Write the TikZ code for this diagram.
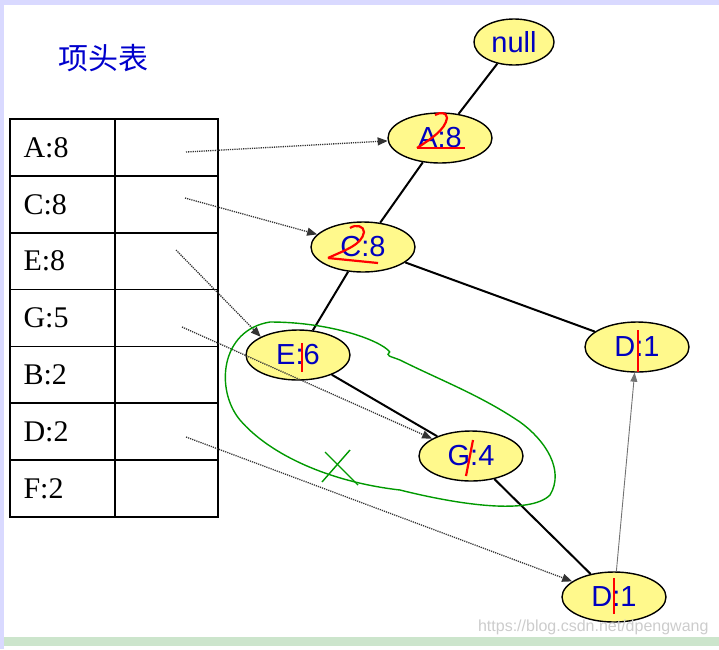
\documentclass[tikz,border=0pt]{standalone}
\usepackage{fontspec}
\setmainfont{Liberation Serif}
\newfontfamily\sans{Liberation Sans}
\newfontfamily\cjk{Noto Sans CJK SC}
\usetikzlibrary{arrows.meta,shapes.geometric}
\begin{document}
\begin{tikzpicture}[x=1pt,y=-1pt,
  nd/.style={ellipse,draw=black,line width=1.4pt,fill=yellow!45,minimum width=104pt,minimum height=50pt,inner sep=0pt,font=\sans\fontsize{29}{29}\selectfont,text=blue!75!black},
  tr/.style={draw=black,line width=2pt},
  dt/.style={draw=black!80,dash pattern=on 1.2pt off 1pt,line width=1.3pt,-{Triangle[length=10pt,width=8pt]}},
  redm/.style={draw=red,line width=2.2pt}]
\useasboundingbox (0,0) rectangle (719,649);
\fill[blue!15] (0,0) rectangle (719,5);
\fill[blue!15] (0,0) rectangle (4,649);
\fill[green!50!black!20] (4,637) rectangle (719,646);
\node[font=\cjk\fontsize{30}{30}\selectfont,text=blue!80!black] (title) at (103,58) {项头表};
\draw[line width=2.2pt] (10,119) rectangle (218,517);
\draw[line width=1.8pt] (115,119) -- (115,517);
\foreach \t [count=\i] in {A:8,C:8,E:8,G:5,B:2,D:2,F:2}{
  \node[anchor=west,font=\fontsize{30}{30}\selectfont] (h\i) at (20,{119+56.86*(\i-0.5)}) {\t};
  \ifnum\i<7 \draw[line width=1.8pt] (10,{119+56.86*\i}) -- (218,{119+56.86*\i});\fi
}
\node[nd,minimum width=80pt,minimum height=46pt] (null) at (514,42) {null};
\node[nd] (A) at (440,138) {A:8};
\node[nd] (C) at (363,247) {C:8};
\node[nd] (D1) at (637,347) {D:1};
\node[nd] (E) at (298,355) {E:6};
\node[nd] (G) at (471,456) {G:4};
\node[nd] (D2) at (614,597) {D:1};
\draw[tr] (null)--(A); \draw[tr] (A)--(C); \draw[tr] (C)--(E); \draw[tr] (C)--(D1);
\draw[tr] (E)--(G); \draw[tr] (G)--(D2);
\draw[draw=black!55,line width=0.9pt,-{Triangle[length=9pt,width=7pt]}] (D2)--(D1);
\coordinate (s1) at (186,152); \coordinate (s2) at (185,198); \coordinate (s3) at (176,250);
\coordinate (s4) at (182,327); \coordinate (s5) at (186,437);
\draw[dt] (s1)--(A); \draw[dt] (s2)--(C); \draw[dt] (s3)--(E.north west);
\draw[dt] (s4)--(G); \draw[dt] (s5)--(D2);
% red marks
\draw[redm] (417,148) -- (465,148);
\draw[redm] (417,148) .. controls (432,138) and (445,130) .. (447,118) .. controls (447,112) and (440,112) .. (435,115);
\draw[redm] (328,258) -- (378,263);
\draw[redm] (328,258) .. controls (345,250) and (362,245) .. (364,232) .. controls (364,226) and (356,224) .. (350,228);
\draw[redm] (638,330) -- (638,372);
\draw[redm] (302,343) -- (302,372);
\draw[redm] (473,440) -- (466,476);
\draw[redm] (614,578) -- (614,614);
% green loop
\draw[green!60!black,line width=1.4pt] (390,352) .. controls (380,340) and (330,322) .. (270,322)
 .. controls (220,330) and (215,390) .. (240,420) .. controls (270,455) and (330,482) .. (400,490)
 .. controls (460,505) and (530,515) .. (550,495) .. controls (565,470) and (545,440) .. (520,422)
 .. controls (480,395) and (440,380) .. (400,360) .. controls (390,356) and (385,356) .. (390,352);
\draw[green!60!black,line width=1.4pt] (325,452) -- (358,485);
\draw[green!60!black,line width=1.4pt] (350,450) -- (322,482);
\node[font=\sans\fontsize{16}{16}\selectfont,text=black!20,anchor=east] (wm) at (712,627) {https://blog.csdn.net/dpengwang};
\end{tikzpicture}
\end{document}
